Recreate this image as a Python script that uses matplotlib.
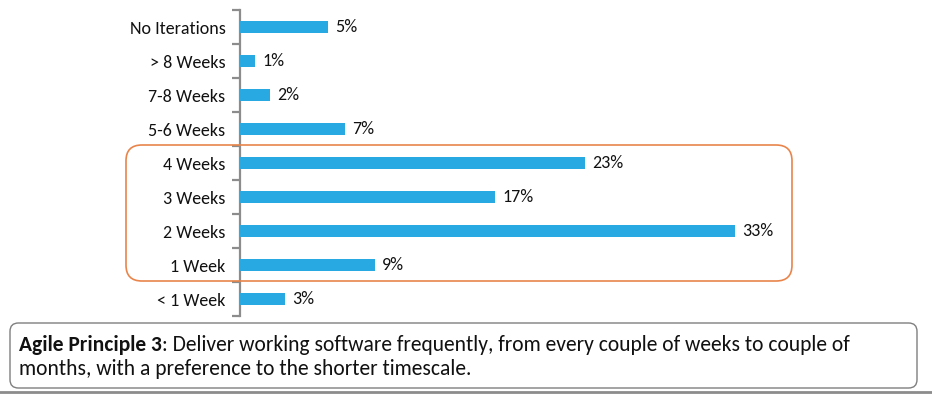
import matplotlib
matplotlib.use("Agg")
import matplotlib.pyplot as plt
from matplotlib.patches import FancyBboxPatch
from matplotlib.lines import Line2D
import numpy as np

categories = ["< 1 Week", "1 Week", "2 Weeks", "3 Weeks", "4 Weeks",
              "5-6 Weeks", "7-8 Weeks", "> 8 Weeks", "No Iterations"]
values = [3, 9, 33, 17, 23, 7, 2, 1, 5.9]
value_labels = ["3%", "9%", "33%", "17%", "23%", "7%", "2%", "1%", "5%"]
note_bold = "Agile Principle 3"
note_line1 = ": Deliver working software frequently, from every couple of weeks to couple of"
note_line2 = "months, with a preference to the shorter timescale."

W, H = 932, 394
fig = plt.figure(figsize=(W / 100, H / 100), dpi=100)
fig.patch.set_facecolor("white")

font = ["Carlito", "DejaVu Sans"]
lab_size = 13
ax = fig.add_axes([239.5 / W, 78 / H, 600 / W, 306 / H])
y = np.arange(len(categories))
ax.barh(y, values, height=0.36, color="#29A9E1", zorder=3)
ax.set_xlim(0, 40)
ax.set_ylim(-0.5, len(categories) - 0.5)
for s in ["top", "right", "bottom"]:
    ax.spines[s].set_visible(False)
ax.spines["left"].set_color("#8c8c8c")
ax.spines["left"].set_linewidth(1.6)
ax.set_xticks([])
ax.set_yticks(y)
ax.set_yticklabels(categories, fontsize=lab_size, family=font, color="#111111")
ax.tick_params(axis="y", which="major", length=0, pad=10)
ax.set_yticks(np.arange(-0.5, len(categories)), minor=True)
ax.tick_params(axis="y", which="minor", length=6, width=1.6, color="#8c8c8c")
for yi, v, lab in zip(y, values, value_labels):
    ax.text(v + 0.5, yi, lab, va="center", ha="left", fontsize=lab_size,
            family=font, color="#111111")

# orange rounded highlight box
box = FancyBboxPatch((126 / W, (H - 281) / H), (792 - 126) / W, (281 - 145) / H,
                     boxstyle="round,pad=0,rounding_size=0.017",
                     transform=fig.transFigure, fill=False,
                     edgecolor="#E9854B", linewidth=1.2, mutation_aspect=W / H)
fig.add_artist(box)

# note box
nbox = FancyBboxPatch((10 / W, (H - 388) / H), (917 - 10) / W, (388 - 323) / H,
                      boxstyle="round,pad=0,rounding_size=0.009",
                      transform=fig.transFigure, fill=False,
                      edgecolor="#7f7f7f", linewidth=1.0, mutation_aspect=W / H)
fig.add_artist(nbox)

note_size = 15.5
t1 = fig.text(19 / W, (H - 351) / H, note_bold, fontsize=note_size, family=font,
              weight="bold", va="baseline", ha="left", color="#111111")
fig.canvas.draw()
bb = t1.get_window_extent()
fig.text(bb.x1 / W, (H - 351) / H, note_line1, fontsize=note_size, family=font,
         va="baseline", ha="left", color="#111111")
fig.text(19 / W, (H - 375) / H, note_line2, fontsize=note_size, family=font,
         va="baseline", ha="left", color="#111111")

fig.add_artist(Line2D([0, 1], [2 / H, 2 / H], transform=fig.transFigure,
                      color="#8c8c8c", linewidth=2))

fig.savefig("out.png", dpi=100)
